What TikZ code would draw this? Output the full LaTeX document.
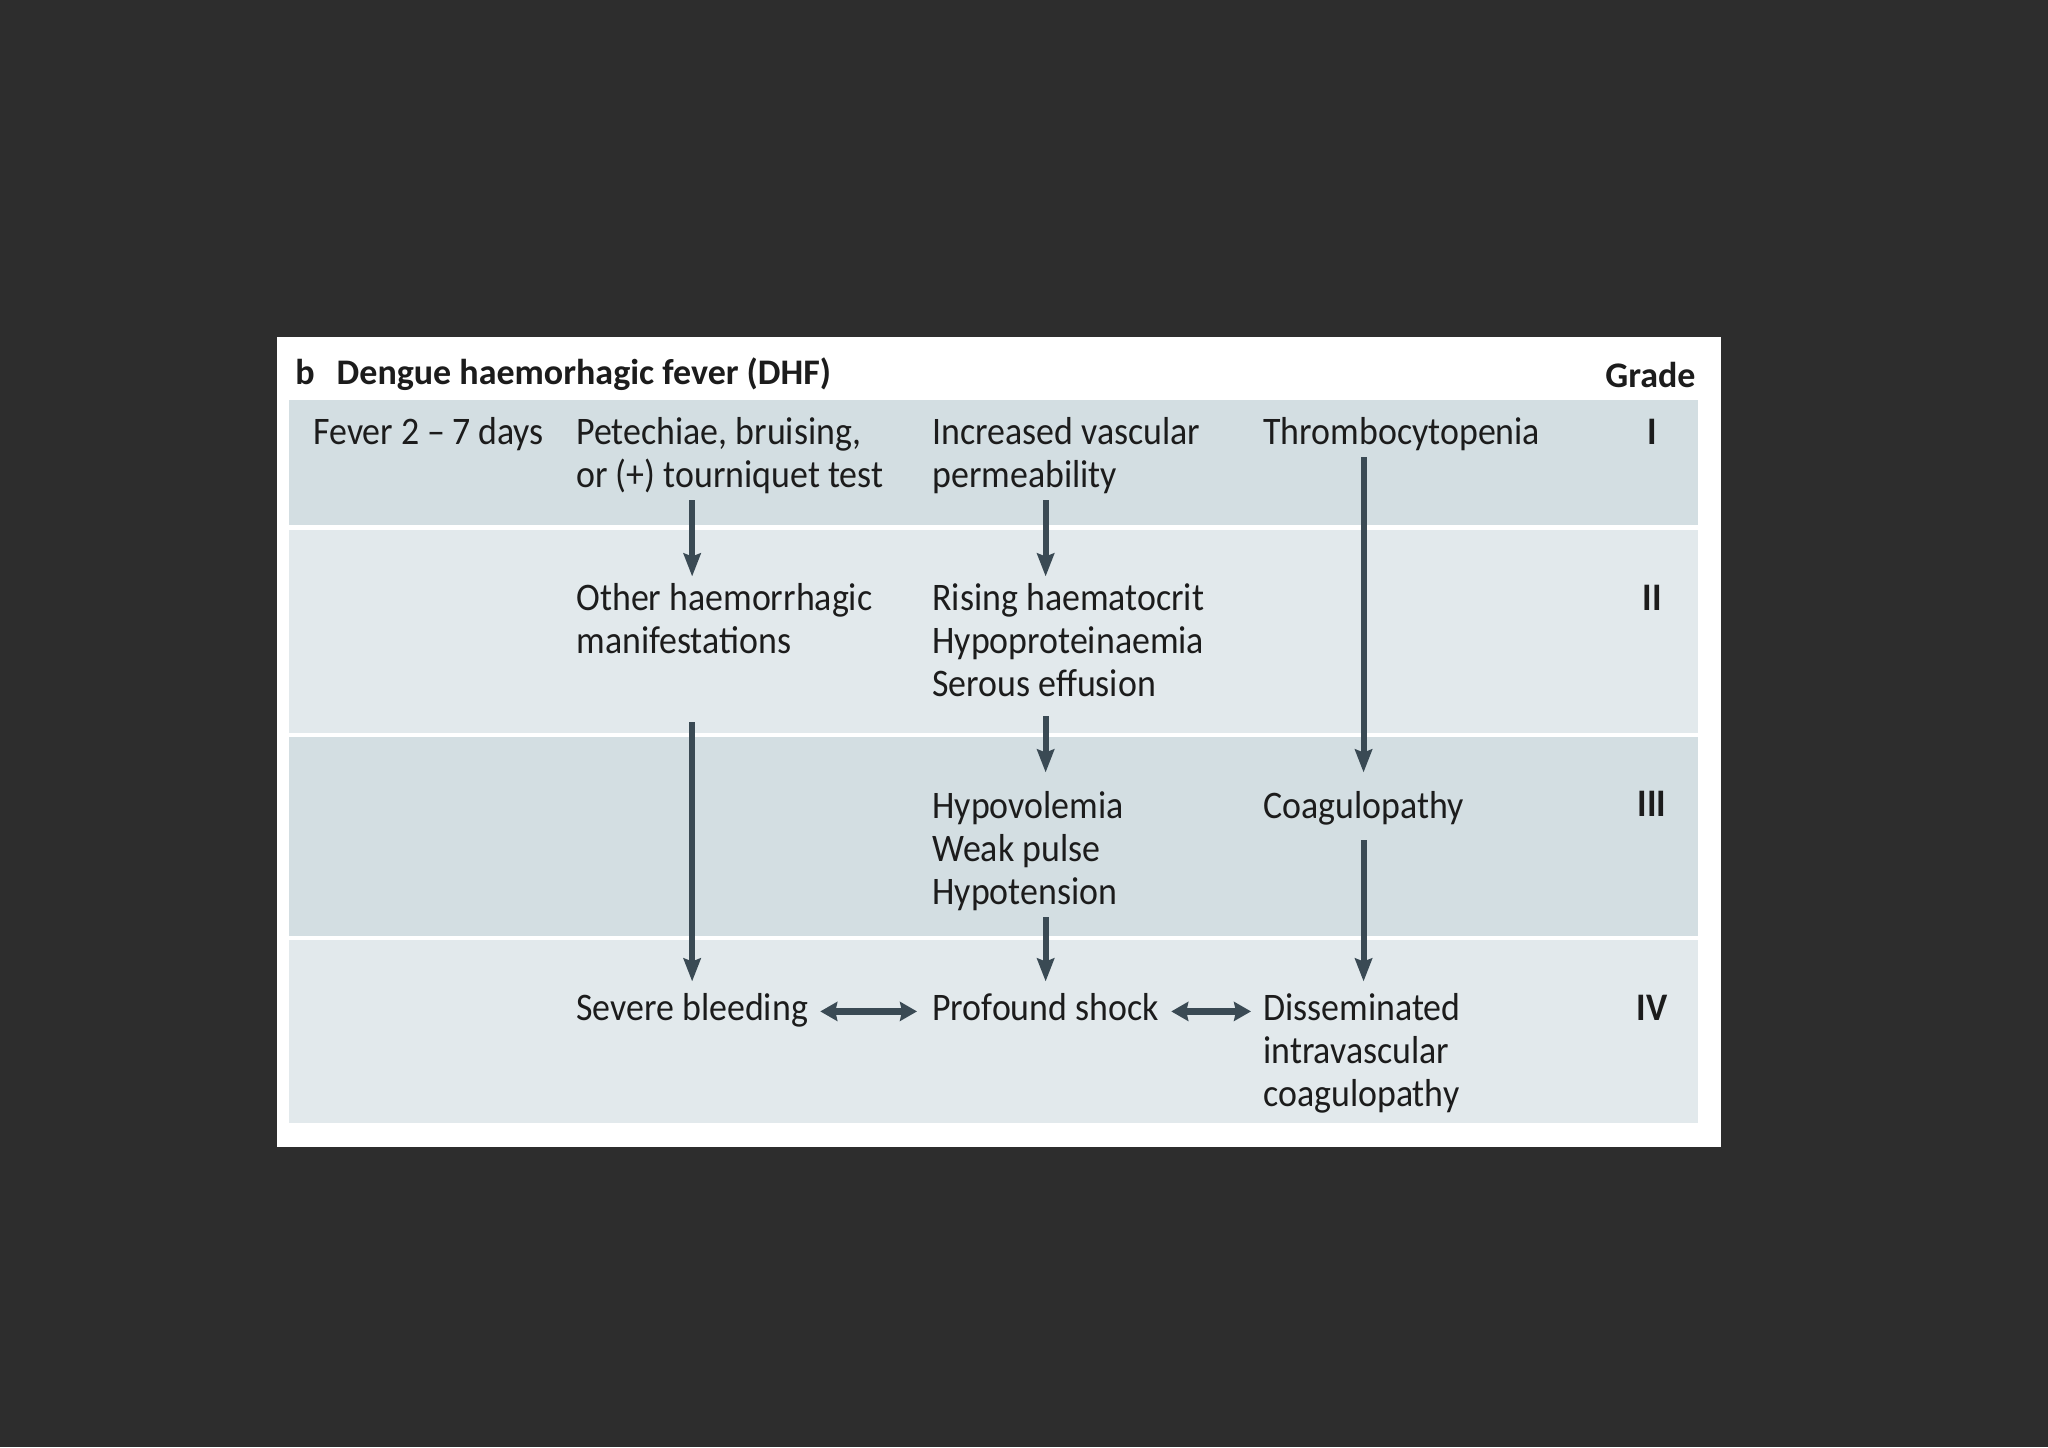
\documentclass[tikz,border=0pt]{standalone}
\usepackage{fontspec}
\setmainfont{Carlito}[FakeStretch=0.92]
\newfontfamily\ttlfont{Carlito}
\usetikzlibrary{arrows.meta,calc}
\definecolor{bgdark}{HTML}{2D2D2D}
\definecolor{bandA}{HTML}{D3DEE2}
\definecolor{bandB}{HTML}{E2E9EC}
\definecolor{arrc}{HTML}{3A4A54}
\definecolor{txt}{HTML}{1C1C1C}
\newcommand{\ml}[1]{\begin{tabular}[t]{@{}l@{}}#1\end{tabular}}
\begin{document}
\begin{tikzpicture}[x=0.5pt,y=-0.5pt,
  body/.style={anchor=base west, inner sep=0pt, text=txt, font=\fontsize{19.5}{21.5}\selectfont},
  gradenum/.style={anchor=base, inner sep=0pt, text=txt, font=\fontsize{19.5}{21.5}\selectfont\bfseries},
  ttl/.style={anchor=base west, inner sep=0pt, text=txt, font=\ttlfont\fontsize{18}{21.5}\selectfont\bfseries},
  arr/.style={draw=arrc, line width=3pt, -{Stealth[length=11.5pt, width=8.5pt, inset=1.5pt]}},
  dbl/.style={draw=arrc, line width=3.5pt, {Stealth[length=8.5pt, width=9.5pt, inset=1pt]}-{Stealth[length=8.5pt, width=9.5pt, inset=1pt]}}
]
\useasboundingbox (0,0) rectangle (2048,1447);
\fill[bgdark] (0,0) rectangle (2048,1447);
\fill[white] (277,337) rectangle (1721,1147);
\fill[bandA] (289,400) rectangle (1698,525);
\fill[bandB] (289,530) rectangle (1698,733);
\fill[bandA] (289,737) rectangle (1698,936);
\fill[bandB] (289,940) rectangle (1698,1123);

% title and header
\node[ttl] (ttl) at (295,384) {b\hspace{11pt}Dengue haemorhagic fever (DHF)};
\node[ttl] (grd) at (1605,387) {Grade};

% row I
\node[body] (fev) at (313,444) {\ml{Fever 2 –\,7 days}};
\node[body] (pet) at (576,444) {\ml{Petechiae, bruising,\\or (+) tourniquet test}};
\node[body] (inc) at (932,444) {\ml{Increased vascular\\permeability}};
\node[body] (thr) at (1263,444) {\ml{Thrombocytopenia}};
\node[gradenum] (g1) at (1652,444) {I};

% row II
\node[body] (oth) at (576,610) {\ml{Other haemorrhagic\\manifestations}};
\node[body] (ris) at (932,610) {\ml{Rising haematocrit\\Hypoproteinaemia\\Serous effusion}};
\node[gradenum] (g2) at (1652,610) {II};

% row III
\node[body] (hyp) at (932,818) {\ml{Hypovolemia\\Weak pulse\\Hypotension}};
\node[body] (coa) at (1263,818) {\ml{Coagulopathy}};
\node[gradenum] (g3) at (1652,816) {III};

% row IV
\node[body] (sev) at (576,1020) {\ml{Severe bleeding}};
\node[body] (pro) at (932,1020) {\ml{Profound shock}};
\node[body] (dis) at (1263,1020) {\ml{Disseminated\\intravascular\\coagulopathy}};
\node[gradenum] (g4) at (1652,1020) {IV};

% vertical arrows
\draw[arr, shorten >=1.5pt] (pet.south -| sev.north) -- (oth.north -| sev.north);
\draw[arr, shorten <=28pt, shorten >=4pt] (oth.south -| sev.north) -- (sev.north);
\draw[arr, shorten >=1.5pt] (inc.south -| pro.north) -- (ris.north -| pro.north);
\draw[arr, shorten <=3.5pt, shorten >=7.5pt] (ris.south -| pro.north) -- (hyp.north -| pro.north);
\draw[arr, shorten >=4pt] (hyp.south -| pro.north) -- (pro.north);
\draw[arr, shorten >=7.5pt] (thr.south -| coa.north) -- (coa.north);
\draw[arr, shorten <=4.5pt, shorten >=4pt] (coa.south) -- (dis.north -| coa.south);

% horizontal double arrows
\draw[dbl, shorten <=6pt, shorten >=7.5pt] (sev.east) -- (pro.west);
\draw[dbl, shorten <=6pt, shorten >=6pt] (pro.east) -- (pro.east -| dis.west);
\end{tikzpicture}
\end{document}
